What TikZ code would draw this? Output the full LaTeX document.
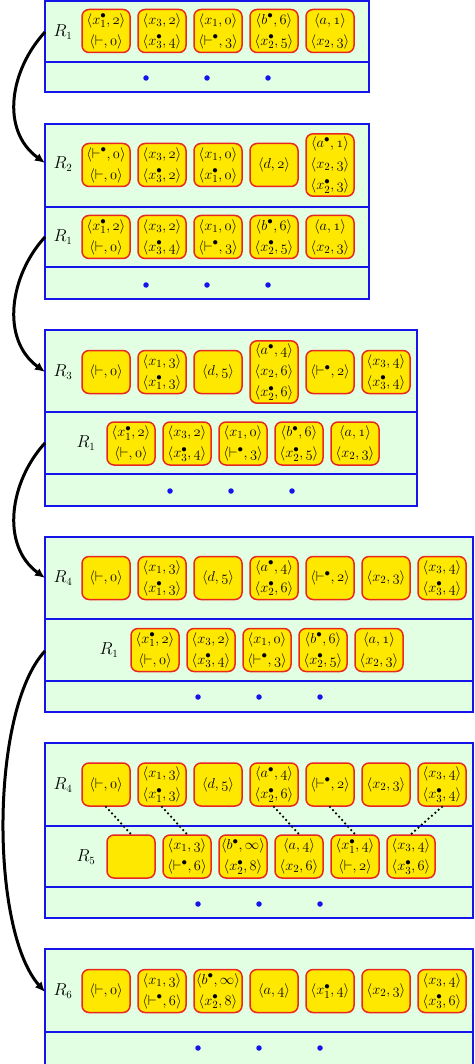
\documentclass[tikz,border=0pt]{standalone}
\usetikzlibrary{arrows.meta}
\definecolor{bgreen}{RGB}{226,255,228}
\definecolor{cyel}{RGB}{255,232,0}
\definecolor{cred}{RGB}{232,40,30}
\definecolor{cblue}{RGB}{20,20,235}
\newcommand\pr[2]{$\left\langle #1,\mathnormal{#2}\right\rangle$}
\newcommand\RoneRow[3]{%
  \foreach \t [count=\i] in {%
    {\pr{x_1^\bullet}{2}\\\pr{\vdash}{0}},
    {\pr{x_3}{2}\\\pr{x_3^\bullet}{4}},
    {\pr{x_1}{0}\\\pr{\vdash^\bullet}{3}},
    {\pr{b^\bullet}{6}\\\pr{x_2^\bullet}{5}},
    {\pr{a}{1}\\\pr{x_2}{3}}}
    \node[cell] (#1-\i) at ({#2+56*(\i-1)},#3) {\t};}
\newcommand\RfourRow[2]{%
  \foreach \t [count=\i] in {%
    {\pr{\vdash}{0}},
    {\pr{x_1}{3}\\\pr{x_1^\bullet}{3}},
    {\pr{d}{5}},
    {\pr{a^\bullet}{4}\\\pr{x_2^\bullet}{6}},
    {\pr{\vdash^\bullet}{2}},
    {\pr{x_2}{3}},
    {\pr{x_3}{4}\\\pr{x_3^\bullet}{4}}}
    \node[cell] (#1-\i) at ({106+56*(\i-1)},#2) {\t};}
\begin{document}
\begin{tikzpicture}[x=1pt,y=-1pt,
  cell/.style={draw=cred, fill=cyel, line width=1.5pt, rounded corners=7pt,
    minimum width=48pt, minimum height=43pt, inner xsep=0.5pt, inner ysep=3pt,
    align=center, font=\fontsize{15}{21}\selectfont},
  frame/.style={draw=cblue, line width=1.5pt, fill=bgreen},
  sepline/.style={draw=cblue, line width=2.2pt},
  bdot/.style={fill=cblue, circle, inner sep=0pt, minimum size=5.5pt},
  rlab/.style={font=\fontsize{16}{18}\selectfont},
  flow/.style={line width=3pt, -{Latex[length=10pt,width=9pt]}},
  link/.style={line width=2.5pt, dash pattern=on 0pt off 4.5pt, line cap=round}]
\useasboundingbox (0,0) rectangle (474,1064);

% ---------- block 1
\path[frame] (45,1) rectangle (369,92);
\draw[sepline] (45,62) -- (369,62);
\node[rlab] (l1) at (63,32) {$R_1$};
\RoneRow{ba}{106}{31}
\foreach \x [count=\i] in {146,207,268} \node[bdot] (da\i) at (\x,78) {};

% ---------- block 2
\path[frame] (45,124) rectangle (369,299);
\draw[sepline] (45,207) -- (369,207);
\draw[sepline] (45,267) -- (369,267);
\node[rlab] (l2) at (63,164) {$R_2$};
\foreach \t [count=\i] in {%
    {\pr{\vdash^\bullet}{0}\\\pr{\vdash}{0}},
    {\pr{x_3}{2}\\\pr{x_3^\bullet}{2}},
    {\pr{x_1}{0}\\\pr{x_1^\bullet}{0}},
    {\pr{d}{2}},
    {\pr{a^\bullet}{1}\\\pr{x_2}{3}\\\pr{x_2^\bullet}{3}}}
  \node[cell] (bb-\i) at ({106+56*(\i-1)},165) {\t};
\node[rlab] (l2b) at (63,237) {$R_1$};
\RoneRow{bc}{106}{237}
\foreach \x [count=\i] in {146,207,268} \node[bdot] (db\i) at (\x,285) {};

% ---------- block 3
\path[frame] (45,330) rectangle (417,506);
\draw[sepline] (45,412) -- (417,412);
\draw[sepline] (45,474) -- (417,474);
\node[rlab] (l3) at (63,372) {$R_3$};
\foreach \t [count=\i] in {%
    {\pr{\vdash}{0}},
    {\pr{x_1}{3}\\\pr{x_1^\bullet}{3}},
    {\pr{d}{5}},
    {\pr{a^\bullet}{4}\\\pr{x_2}{6}\\\pr{x_2^\bullet}{6}},
    {\pr{\vdash^\bullet}{2}},
    {\pr{x_3}{4}\\\pr{x_3^\bullet}{4}}}
  \node[cell] (bd-\i) at ({106+56*(\i-1)},372) {\t};
\node[rlab] (l3b) at (86,443) {$R_1$};
\RoneRow{be}{131}{443.5}
\foreach \x [count=\i] in {170,231,292} \node[bdot] (dc\i) at (\x,491) {};

% ---------- block 4
\path[frame] (45,537) rectangle (473,712);
\draw[sepline] (45,619) -- (473,619);
\draw[sepline] (45,681) -- (473,681);
\node[rlab] (l4) at (63,578) {$R_4$};
\RfourRow{bf}{578}
\node[rlab] (l4b) at (109,650) {$R_1$};
\RoneRow{bg}{155}{650}
\foreach \x [count=\i] in {198,259,320} \node[bdot] (dd\i) at (\x,697) {};

% ---------- block 5
\path[frame] (45,743) rectangle (473,918);
\draw[sepline] (45,826) -- (473,826);
\draw[sepline] (45,887) -- (473,887);
\node[rlab] (l5) at (63,785) {$R_4$};
\RfourRow{bh}{784.5}
\node[rlab] (l5b) at (86,857) {$R_5$};
\foreach \t [count=\i] in {%
    {},
    {\pr{x_1}{3}\\\pr{\vdash^\bullet}{6}},
    {\pr{b^\bullet}{\infty}\\\pr{x_2^\bullet}{8}},
    {\pr{a}{4}\\\pr{x_2}{6}},
    {\pr{x_1^\bullet}{4}\\\pr{\vdash}{2}},
    {\pr{x_3}{4}\\\pr{x_3^\bullet}{6}}}
  \node[cell] (bi-\i) at ({131+56*(\i-1)},856.5) {\t};
\foreach \x [count=\i] in {198,259,320} \node[bdot] (de\i) at (\x,904) {};
\foreach \a/\b in {1/1,2/2,4/4,5/5,7/6}
  \draw[link] (bh-\a.south) -- (bi-\b.north);

% ---------- block 6
\path[frame] (45,949) rectangle (473,1090);
\draw[sepline] (45,1032) -- (473,1032);
\node[rlab] (l6) at (63,991) {$R_6$};
\foreach \t [count=\i] in {%
    {\pr{\vdash}{0}},
    {\pr{x_1}{3}\\\pr{\vdash^\bullet}{6}},
    {\pr{b^\bullet}{\infty}\\\pr{x_2^\bullet}{8}},
    {\pr{a}{4}},
    {\pr{x_1^\bullet}{4}},
    {\pr{x_2}{3}},
    {\pr{x_3}{4}\\\pr{x_3^\bullet}{6}}}
  \node[cell] (bj-\i) at ({106+56*(\i-1)},991) {\t};
\foreach \x [count=\i] in {198,259,320} \node[bdot] (df\i) at (\x,1048) {};

% ---------- arrows
\coordinate (s1) at (45,32);  \coordinate (e1) at (45,163);
\coordinate (s2) at (45,237); \coordinate (e2) at (45,372);
\coordinate (s3) at (45,443); \coordinate (e3) at (45,578);
\coordinate (s4) at (45,651); \coordinate (e4) at (45,992);
\draw[flow] (s1) .. controls (10,70) and (0,130) .. (e1);
\draw[flow] (s2) .. controls (10,275) and (0,339) .. (e2);
\draw[flow] (s3) .. controls (10,481) and (0,545) .. (e3);
\draw[flow] (s4) .. controls (-10,710) and (-10,930) .. (e4);
\end{tikzpicture}
\end{document}
